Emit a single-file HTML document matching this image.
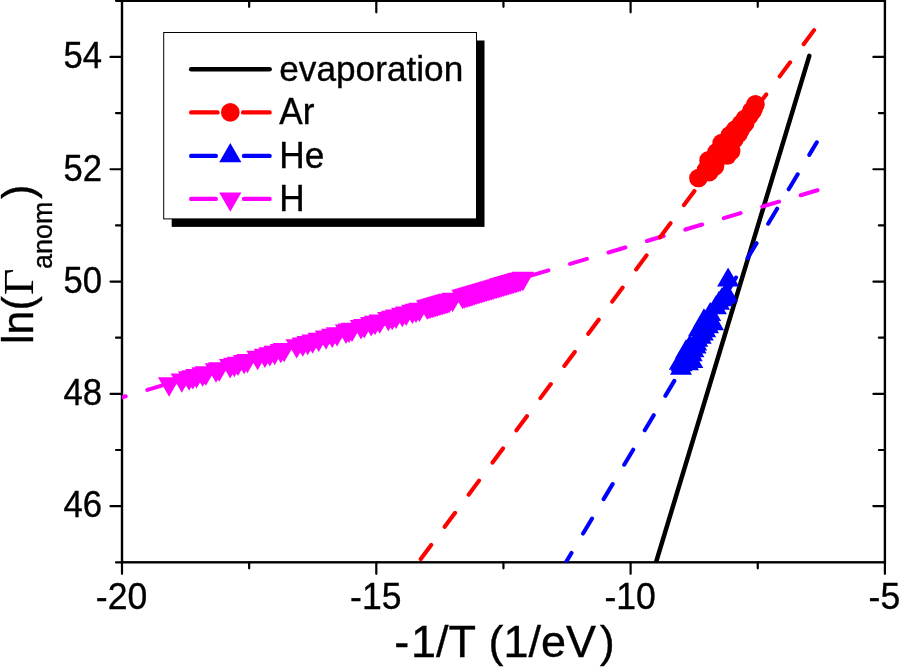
<!DOCTYPE html>
<html><head><meta charset="utf-8"><title>ln(Gamma_anom) vs -1/T</title>
<style>html,body{margin:0;padding:0;background:#fff;}svg{display:block;}text{font-family:"Liberation Sans",Arial,sans-serif;fill:#000;font-kerning:none;stroke:#000;stroke-width:0.35px;}</style>
</head><body>
<svg width="900" height="667" viewBox="0 0 900 667">
<rect x="0" y="0" width="900" height="667" fill="#fff"/>
<defs><clipPath id="plot"><rect x="122.0" y="0.8" width="762.9" height="561.5"/></clipPath></defs>
<g stroke="#000" stroke-width="2.40" fill="none" stroke-linecap="butt">
<rect x="122.00" y="0.80" width="762.90" height="561.50"/>
</g>
<g stroke="#000" stroke-width="2.2" stroke-linecap="round" fill="none">
<path d="M122.00 562.30 H116.00 M122.00 506.15 H110.50 M884.90 506.15 H873.40 M122.00 450.00 H116.00 M884.90 450.00 H878.90 M122.00 393.85 H110.50 M884.90 393.85 H873.40 M122.00 337.70 H116.00 M884.90 337.70 H878.90 M122.00 281.55 H110.50 M884.90 281.55 H873.40 M122.00 225.40 H116.00 M884.90 225.40 H878.90 M122.00 169.25 H110.50 M884.90 169.25 H873.40 M122.00 113.10 H116.00 M884.90 113.10 H878.90 M122.00 56.95 H110.50 M884.90 56.95 H873.40 M122.00 0.80 H116.00 M122.00 562.30 V573.80 M249.15 562.30 V568.30 M249.15 0.80 V6.80 M376.30 562.30 V573.80 M376.30 0.80 V12.30 M503.45 562.30 V568.30 M503.45 0.80 V6.80 M630.60 562.30 V573.80 M630.60 0.80 V12.30 M757.75 562.30 V568.30 M757.75 0.80 V6.80 M884.90 562.30 V573.80"/>
</g>
<g clip-path="url(#plot)">
<path d="M654.90 566.00 L809.30 55.90" stroke="#000" stroke-width="4.5" stroke-linecap="round" fill="none"/>
<path d="M70.50 412.78 L817.44 190.19" stroke="#FF00FF" stroke-width="4.10" stroke-linecap="round" stroke-dasharray="17.5 22.6" fill="none"/>
<path d="M157.90 377.23 L180.30 377.23 L169.10 396.63Z M170.60 373.44 L193.00 373.44 L181.80 392.84Z M177.90 371.27 L200.30 371.27 L189.10 390.67Z M181.60 370.17 L204.00 370.17 L192.80 389.57Z M185.30 369.06 L207.70 369.06 L196.50 388.46Z M191.40 367.25 L213.80 367.25 L202.60 386.65Z M204.80 363.25 L227.20 363.25 L216.00 382.65Z M219.00 359.02 L241.40 359.02 L230.20 378.42Z M223.20 357.77 L245.60 357.77 L234.40 377.17Z M226.80 356.70 L249.20 356.70 L238.00 376.10Z M232.90 354.88 L255.30 354.88 L244.10 374.28Z M246.40 350.86 L268.80 350.86 L257.60 370.26Z M253.70 348.68 L276.10 348.68 L264.90 368.08Z M258.60 347.22 L281.00 347.22 L269.80 366.62Z M263.50 345.76 L285.90 345.76 L274.70 365.16Z M269.60 343.94 L292.00 343.94 L280.80 363.34Z M285.50 339.20 L307.90 339.20 L296.70 358.60Z M291.60 337.39 L314.00 337.39 L302.80 356.79Z M296.50 335.93 L318.90 335.93 L307.70 355.33Z M301.40 334.47 L323.80 334.47 L312.60 353.87Z M307.50 332.65 L329.90 332.65 L318.70 352.05Z M314.80 330.47 L337.20 330.47 L326.00 349.87Z M321.00 328.63 L343.40 328.63 L332.20 348.02Z M325.80 327.19 L348.20 327.19 L337.00 346.59Z M334.80 324.51 L357.20 324.51 L346.00 343.91Z M337.80 323.62 L360.20 323.62 L349.00 343.02Z M340.80 322.72 L363.20 322.72 L352.00 342.12Z M349.80 320.04 L372.20 320.04 L361.00 339.44Z M360.00 317.00 L382.40 317.00 L371.20 336.40Z M363.80 315.87 L386.20 315.87 L375.00 335.27Z M368.60 314.44 L391.00 314.44 L379.80 333.84Z M377.10 311.91 L399.50 311.91 L388.30 331.31Z M381.00 310.75 L403.40 310.75 L392.20 330.14Z M384.90 309.58 L407.30 309.58 L396.10 328.98Z M391.10 307.74 L413.50 307.74 L402.30 327.13Z M395.00 306.57 L417.40 306.57 L406.20 325.97Z M401.20 304.73 L423.60 304.73 L412.40 324.12Z M404.80 303.65 L427.20 303.65 L416.00 323.05Z M408.20 302.64 L430.60 302.64 L419.40 322.04Z M416.00 300.32 L438.40 300.32 L427.20 319.71Z M417.70 299.81 L440.10 299.81 L428.90 319.21Z M419.40 299.30 L441.80 299.30 L430.60 318.70Z M421.10 298.80 L443.50 298.80 L432.30 318.19Z M422.80 298.29 L445.20 298.29 L434.00 317.69Z M424.50 297.78 L446.90 297.78 L435.70 317.18Z M426.20 297.28 L448.60 297.28 L437.40 316.67Z M427.90 296.77 L450.30 296.77 L439.10 316.17Z M429.60 296.26 L452.00 296.26 L440.80 315.66Z M431.30 295.76 L453.70 295.76 L442.50 315.15Z M433.00 295.25 L455.40 295.25 L444.20 314.65Z M434.70 294.74 L457.10 294.74 L445.90 314.14Z M436.40 294.24 L458.80 294.24 L447.60 313.64Z M438.10 293.73 L460.50 293.73 L449.30 313.13Z M451.40 289.77 L473.80 289.77 L462.60 309.17Z M453.10 289.26 L475.50 289.26 L464.30 308.66Z M454.80 288.75 L477.20 288.75 L466.00 308.15Z M456.50 288.25 L478.90 288.25 L467.70 307.65Z M458.20 287.74 L480.60 287.74 L469.40 307.14Z M459.90 287.23 L482.30 287.23 L471.10 306.63Z M461.60 286.73 L484.00 286.73 L472.80 306.13Z M463.30 286.22 L485.70 286.22 L474.50 305.62Z M465.00 285.71 L487.40 285.71 L476.20 305.11Z M466.70 285.21 L489.10 285.21 L477.90 304.61Z M468.40 284.70 L490.80 284.70 L479.60 304.10Z M470.10 284.19 L492.50 284.19 L481.30 303.59Z M471.80 283.69 L494.20 283.69 L483.00 303.09Z M473.50 283.18 L495.90 283.18 L484.70 302.58Z M475.20 282.67 L497.60 282.67 L486.40 302.07Z M476.90 282.17 L499.30 282.17 L488.10 301.57Z M478.60 281.66 L501.00 281.66 L489.80 301.06Z M480.30 281.15 L502.70 281.15 L491.50 300.55Z M482.00 280.65 L504.40 280.65 L493.20 300.05Z M483.70 280.14 L506.10 280.14 L494.90 299.54Z M485.40 279.63 L507.80 279.63 L496.60 299.03Z M487.10 279.13 L509.50 279.13 L498.30 298.53Z M488.80 278.62 L511.20 278.62 L500.00 298.02Z M490.50 278.11 L512.90 278.11 L501.70 297.51Z M492.20 277.61 L514.60 277.61 L503.40 297.01Z M493.90 277.10 L516.30 277.10 L505.10 296.50Z M495.60 276.59 L518.00 276.59 L506.80 295.99Z M497.30 276.09 L519.70 276.09 L508.50 295.49Z M499.00 275.58 L521.40 275.58 L510.20 294.98Z M500.70 275.07 L523.10 275.07 L511.90 294.47Z M502.40 274.57 L524.80 274.57 L513.60 293.97Z M504.10 274.06 L526.50 274.06 L515.30 293.46Z M505.80 273.55 L528.20 273.55 L517.00 292.95Z M507.50 273.05 L529.90 273.05 L518.70 292.45Z M509.20 272.54 L531.60 272.54 L520.40 291.94Z M511.70 271.80 L534.10 271.80 L522.90 291.20Z M194.70 366.26 L217.10 366.26 L205.90 385.66Z M208.10 362.27 L230.50 362.27 L219.30 381.67Z M236.20 353.90 L258.60 353.90 L247.40 373.29Z M272.90 342.96 L295.30 342.96 L284.10 362.36Z M353.10 319.06 L375.50 319.06 L364.30 338.46Z M441.40 292.75 L463.80 292.75 L452.60 312.15Z" fill="#FF00FF"/>
<path d="M562.51 567.99 L816.80 142.30" stroke="#0000FF" stroke-width="4.10" stroke-linecap="round" stroke-dasharray="17.5 22.6" fill="none"/>
<path d="M717.10 286.55 L739.10 286.55 L728.10 267.50Z M716.00 301.75 L738.00 301.75 L727.00 282.70Z M711.00 306.15 L733.00 306.15 L722.00 287.10Z M704.90 314.25 L726.90 314.25 L715.90 295.20Z M699.20 320.95 L721.20 320.95 L710.20 301.90Z M702.00 330.15 L724.00 330.15 L713.00 311.10Z M697.00 333.15 L719.00 333.15 L708.00 314.10Z M694.20 337.15 L716.20 337.15 L705.20 318.10Z M691.90 340.45 L713.90 340.45 L702.90 321.40Z M689.70 343.85 L711.70 343.85 L700.70 324.80Z M686.30 346.65 L708.30 346.65 L697.30 327.60Z M685.20 350.55 L707.20 350.55 L696.20 331.50Z M684.60 353.45 L706.60 353.45 L695.60 334.40Z M682.40 357.35 L704.40 357.35 L693.40 338.30Z M680.70 361.25 L702.70 361.25 L691.70 342.20Z M681.30 368.05 L703.30 368.05 L692.30 349.00Z M670.60 371.35 L692.60 371.35 L681.60 352.30Z M670.00 374.75 L692.00 374.75 L681.00 355.70Z M668.80 369.75 L690.80 369.75 L679.80 350.70Z M708.00 309.85 L730.00 309.85 L719.00 290.80Z M713.50 303.85 L735.50 303.85 L724.50 284.80Z M675.00 364.85 L697.00 364.85 L686.00 345.80Z M677.00 370.35 L699.00 370.35 L688.00 351.30Z M693.00 327.35 L715.00 327.35 L704.00 308.30Z M688.00 336.35 L710.00 336.35 L699.00 317.30Z M679.00 353.35 L701.00 353.35 L690.00 334.30Z M675.00 358.35 L697.00 358.35 L686.00 339.30Z" fill="#0000FF"/>
<path d="M396.82 591.19 L814.08 30.14" stroke="#FF0000" stroke-width="4.10" stroke-linecap="round" stroke-dasharray="17.5 22.6" fill="none"/>
<g fill="#FF0000">
<circle cx="698.43" cy="178.06" r="9.30"/>
<circle cx="708.50" cy="160.42" r="9.30"/>
<circle cx="709.22" cy="172.12" r="9.30"/>
<circle cx="721.64" cy="142.97" r="9.30"/>
<circle cx="717.14" cy="159.17" r="9.30"/>
<circle cx="727.21" cy="155.57" r="9.30"/>
<circle cx="734.41" cy="139.37" r="9.30"/>
<circle cx="723.98" cy="149.27" r="9.30"/>
<circle cx="735.13" cy="129.48" r="9.30"/>
<circle cx="745.03" cy="118.68" r="9.30"/>
<circle cx="745.21" cy="123.18" r="9.30"/>
<circle cx="755.46" cy="104.29" r="9.30"/>
<circle cx="752.40" cy="111.49" r="9.30"/>
<circle cx="714.98" cy="166.36" r="9.30"/>
<circle cx="729.37" cy="144.77" r="9.30"/>
<circle cx="740.17" cy="130.38" r="9.30"/>
<circle cx="749.17" cy="115.98" r="9.30"/>
<circle cx="705.98" cy="169.96" r="9.30"/>
<circle cx="738.37" cy="133.98" r="9.30"/>
<circle cx="731.17" cy="151.07" r="9.30"/>
<circle cx="742.87" cy="125.88" r="9.30"/>
<circle cx="753.66" cy="108.79" r="9.30"/>
<circle cx="716.42" cy="152.33" r="9.30"/>
<circle cx="729.73" cy="135.42" r="9.30"/>
<circle cx="740.89" cy="123.72" r="9.30"/>
<circle cx="751.32" cy="110.95" r="9.30"/>
</g>
</g>
<g font-size="35.2">
<text transform="translate(102 517.45) scale(0.985 1.075)" text-anchor="end">46</text>
<text transform="translate(102 405.15) scale(0.985 1.075)" text-anchor="end">48</text>
<text transform="translate(102 292.85) scale(0.985 1.075)" text-anchor="end">50</text>
<text transform="translate(102 180.55) scale(0.985 1.075)" text-anchor="end">52</text>
<text transform="translate(102 68.25) scale(0.985 1.075)" text-anchor="end">54</text>
<text transform="translate(121.50 609.3) scale(1.01 1.075)" text-anchor="middle">-20</text>
<text transform="translate(375.80 609.3) scale(1.01 1.075)" text-anchor="middle">-15</text>
<text transform="translate(630.10 609.3) scale(1.01 1.075)" text-anchor="middle">-10</text>
<text transform="translate(884.40 609.3) scale(1.01 1.075)" text-anchor="middle">-5</text>
</g>
<text x="394.2" y="656.8" font-size="45"><tspan>-</tspan><tspan dx="1.8">1/T (1/eV</tspan><tspan dx="3.6">)</tspan></text>
<g font-size="43">
<text transform="translate(33.30 344.0) rotate(-90) scale(1 1.035)">ln(</text>
<text transform="translate(33.30 295.0) rotate(-90) scale(1.065 0.975)" style="stroke-width:0.1px;font-family:'Liberation Serif','Times New Roman',serif">Γ</text>
<text transform="translate(51.50 268.9) rotate(-90)" font-size="26.9">anom</text>
<text transform="translate(33.30 199.0) rotate(-90) scale(1 1.035)">)</text>
</g>
<rect x="171.70" y="40.50" width="312.80" height="186.40" fill="#000"/>
<rect x="163.70" y="32.50" width="312.80" height="186.40" fill="#fff" stroke="#000" stroke-width="1"/>
<g stroke-linecap="round" fill="none" stroke-width="4.4">
<path d="M191.20 69.20 H269.60" stroke="#000" stroke-width="4.6"/>
<path d="M191.20 112.40 H217.50 M243.10 112.40 H269.60" stroke="#FF0000"/>
<path d="M191.20 155.90 H215.80 M244.00 155.90 H269.60" stroke="#0000FF"/>
<path d="M191.20 198.90 H215.80 M244.00 198.90 H269.60" stroke="#FF00FF"/>
</g>
<circle cx="230.30" cy="112.40" r="9.3" fill="#FF0000"/>
<path d="M219.20 162.31 L241.40 162.31 L230.30 143.08Z" fill="#0000FF"/>
<path d="M219.20 192.49 L241.40 192.49 L230.30 211.72Z" fill="#FF00FF"/>
<g font-size="35.2">
<text transform="translate(279.3 80.80) scale(1 1.02)">evaporation</text>
<text transform="translate(279.3 124.00) scale(1 1.055)">Ar</text>
<text transform="translate(279.3 167.50) scale(1 1.055)">He</text>
<text transform="translate(279.3 210.50) scale(1 1.055)">H</text>
</g>
</svg>
</body></html>
